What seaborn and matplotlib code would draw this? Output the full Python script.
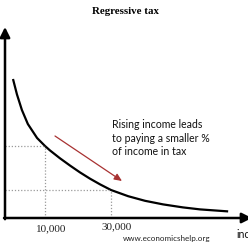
import matplotlib
matplotlib.use("Agg")
import matplotlib.pyplot as plt
import seaborn as sns
import pandas as pd

# Data (income in thousands, tax share in arbitrary %)
income = [0.3, 1.5, 3.0, 4.8, 7.6, 10.0, 11.5, 14.5, 17.6, 20.6, 23.6, 26.7, 30.0,
          35.2, 40.3, 45.8, 51.8, 57.0, 65.5]
tax_share = [34.75, 30.9, 27.0, 23.5, 20.0, 18.0, 16.9, 14.95, 13.1, 11.4, 9.85, 8.4, 7.0,
             5.45, 4.3, 3.4, 2.65, 2.15, 1.65]
marked_income = [10, 30]
marked_tax = [18.0, 6.9]
tick_labels = ["10,000", "30,000"]
title = "Regressive tax"
note = "Rising income leads\nto paying a smaller %\nof income in tax"
x_label = "income"
source = "www.economicshelp.org"

df = pd.DataFrame({"income": income, "tax": tax_share})

sns.set_style("white")
W = H = 248
fig = plt.figure(figsize=(2.48, 2.48), dpi=100)
ax = fig.add_axes([0, 0, 1, 1])
ax.set_xlim(-12 / 3.3, (248 - 12) / 3.3)
ax.set_ylim(-30 / 4, 218 / 4)
ax.axis("off")

def px(x, y):
    return x / W, 1 - y / H

sns.lineplot(data=df, x="income", y="tax", ax=ax, color="black", lw=1.6,
             solid_capstyle="butt", solid_joinstyle="round")

y_axis_x = -7 / 3.3
# guide lines
for mx, my in zip(marked_income, marked_tax):
    ax.plot([y_axis_x, mx], [my, my], color="#9a9a9a", lw=0.9, ls=(0, (1, 1.5)))
    ax.plot([mx, mx], [0, my], color="#9a9a9a", lw=0.9, ls=(0, (1, 1.5)))

# axes arrows
ax.annotate("", xy=(y_axis_x, (218 - 27) / 4), xytext=(y_axis_x, -0.3),
            arrowprops=dict(arrowstyle="-|>,head_length=0.6,head_width=0.3",
                            color="black", lw=1.8, shrinkA=0, shrinkB=0),
            annotation_clip=False)
ax.annotate("", xy=((252 - 12) / 3.3, 0), xytext=(y_axis_x - 0.3, 0),
            arrowprops=dict(arrowstyle="-|>,head_length=0.6,head_width=0.3",
                            color="black", lw=1.8, shrinkA=0, shrinkB=0),
            annotation_clip=False)

# red arrow
ax.annotate("", xy=((122 - 12) / 3.3, (218 - 181) / 4),
            xytext=((55 - 12) / 3.3, (218 - 136) / 4),
            arrowprops=dict(arrowstyle="-|>,head_length=0.45,head_width=0.2",
                            color="#a83232", lw=0.9, shrinkA=0, shrinkB=0))

# tick labels
for mx, lab, yy in zip(marked_income, tick_labels, [229, 227]):
    ax.text(mx + 1.8, -(yy - 218) / 4, lab, ha="center", va="center",
            family="Liberation Serif", fontsize=8, color="#222222")

fig.text(*px(126, 12), title, ha="center", va="center",
         family="Liberation Serif", fontweight="bold", fontsize=7.8, color="black")
fig.text(*px(112, 138), note, ha="left", va="center", family="Lato",
         fontsize=7.6, linespacing=1.3, color="#111111")
fig.text(*px(236, 234), x_label, ha="left", va="center", family="Lato",
         fontsize=7.6, color="#111111")
fig.text(*px(167, 239), source, ha="center", va="center", family="Lato",
         fontsize=5.8, color="#222222")

fig.savefig("out.png", dpi=100, facecolor="white")
